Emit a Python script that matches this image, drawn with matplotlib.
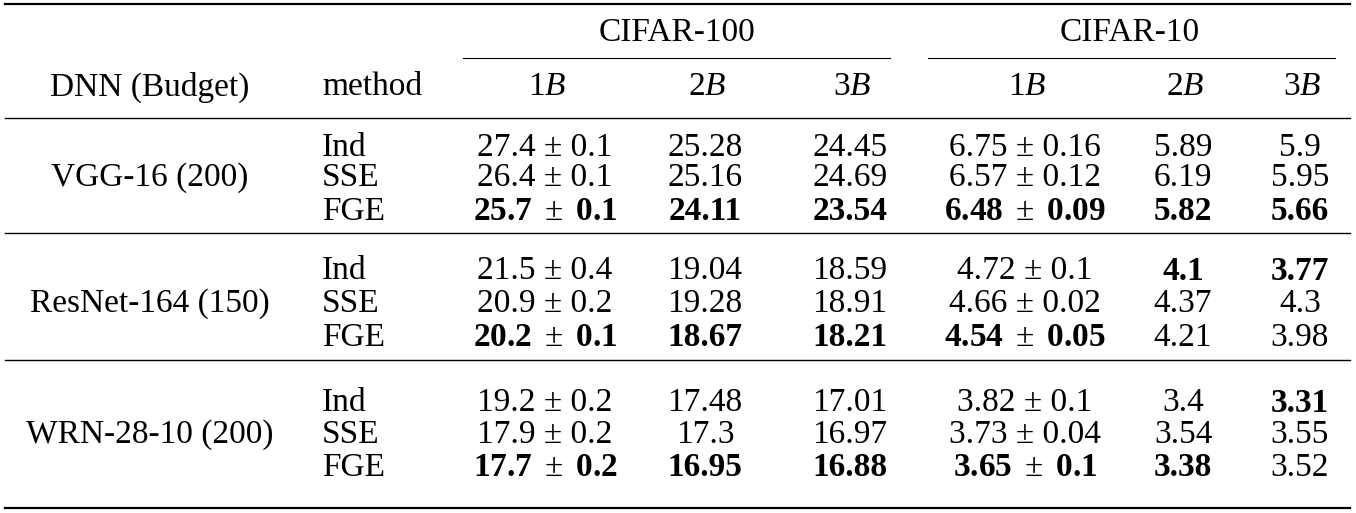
import matplotlib
matplotlib.use("Agg")
import matplotlib.pyplot as plt

plt.rcParams['font.family'] = ['Liberation Serif', 'DejaVu Serif']
plt.rcParams['mathtext.fontset'] = 'custom'
plt.rcParams['mathtext.rm'] = 'Liberation Serif'
plt.rcParams['mathtext.it'] = 'Liberation Serif:italic'
plt.rcParams['mathtext.bf'] = 'Liberation Serif:bold'

nets = ["VGG-16 (200)", "ResNet-164 (150)", "WRN-28-10 (200)"]
methods = ["Ind", "SSE", "FGE"]
budgets = ["1B", "2B", "3B"]

# CIFAR-100: 1B as (mean, std), 2B, 3B
c100_1b = [[("27.4", "0.1"), ("26.4", "0.1"), ("25.7", "0.1")],
           [("21.5", "0.4"), ("20.9", "0.2"), ("20.2", "0.1")],
           [("19.2", "0.2"), ("17.9", "0.2"), ("17.7", "0.2")]]
c100_2b = [["25.28", "25.16", "24.11"], ["19.04", "19.28", "18.67"], ["17.48", "17.3", "16.95"]]
c100_3b = [["24.45", "24.69", "23.54"], ["18.59", "18.91", "18.21"], ["17.01", "16.97", "16.88"]]
# CIFAR-10
c10_1b = [[("6.75", "0.16"), ("6.57", "0.12"), ("6.48", "0.09")],
          [("4.72", "0.1"), ("4.66", "0.02"), ("4.54", "0.05")],
          [("3.82", "0.1"), ("3.73", "0.04"), ("3.65", "0.1")]]
c10_2b = [["5.89", "6.19", "5.82"], ["4.1", "4.37", "4.21"], ["3.4", "3.54", "3.38"]]
c10_3b = [["5.9", "5.95", "5.66"], ["3.77", "4.3", "3.98"], ["3.31", "3.55", "3.52"]]

# index of the bold (best) method per group and column
bold_c100 = [[2, 2, 2], [2, 2, 2], [2, 2, 2]]
bold_c10 = [[2, 2, 2], [2, 0, 0], [2, 2, 0]]

fig = plt.figure(figsize=(13.56, 5.13), dpi=100)
ax = fig.add_axes([0, 0, 1, 1])
ax.set_xlim(0, 1356)
ax.set_ylim(513, 0)
ax.axis('off')

fs = 24
col_x = [545, 705, 850, 1025, 1183, 1300]


def cell(val, bold):
    if isinstance(val, tuple):
        if bold:
            return f"$\\mathbf{{{val[0]}}}\\ \\pm\\ \\mathbf{{{val[1]}}}$"
        return f"{val[0]} ± {val[1]}"
    return val


# rules
ax.plot([5, 1350], [4, 4], color='black', lw=1.6)
ax.plot([5, 1350], [508, 508], color='black', lw=1.6)
for y in [118, 233, 360]:
    ax.plot([5, 1350], [y, y], color='black', lw=1.0)
ax.plot([463, 890], [58, 58], color='black', lw=0.8)
ax.plot([928, 1335], [58, 58], color='black', lw=0.8)

ax.text(677, 33, "CIFAR-100", ha='center', va='center', fontsize=fs)
ax.text(1130, 33, "CIFAR-10", ha='center', va='center', fontsize=fs)
ax.text(150, 87, "DNN (Budget)", ha='center', va='center', fontsize=fs)
ax.text(322, 87, "method", ha='left', va='center', fontsize=fs)
for i, b in enumerate(budgets * 2):
    ax.text(col_x[i], 87, f"{b[0]}", ha='right', va='center', fontsize=fs)
    ax.text(col_x[i], 87, "B", ha='left', va='center', fontsize=fs, style='italic')

row_y = [[148, 178, 212], [271, 304, 338], [403, 435, 468]]
cols = [c100_1b, c100_2b, c100_3b, c10_1b, c10_2b, c10_3b]
for g in range(3):
    ax.text(150, row_y[g][1], nets[g], ha='center', va='center', fontsize=fs)
    for m in range(3):
        y = row_y[g][m]
        ax.text(322, y, methods[m], ha='left', va='center', fontsize=fs)
        for c in range(6):
            best = bold_c100[g][c] if c < 3 else bold_c10[g][c - 3]
            isb = best == m
            ax.text(col_x[c], y, cell(cols[c][g][m], isb), ha='center', va='center',
                    fontsize=fs, fontweight='bold' if isb else 'normal')

fig.savefig("out.png", dpi=100)
